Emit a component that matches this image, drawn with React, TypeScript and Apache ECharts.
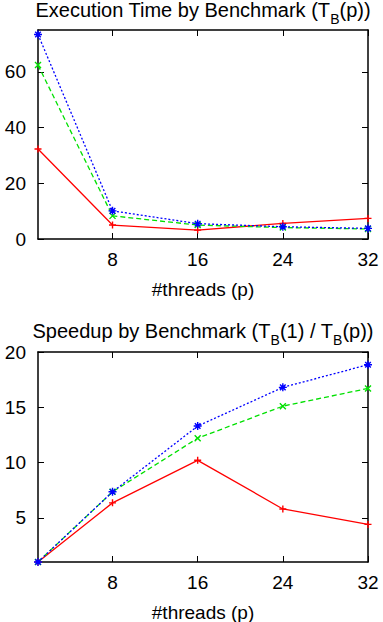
import React, { useEffect, useRef } from 'react';
import * as echarts from 'echarts';

const threads = [1, 8, 16, 24, 32];
const xTicks = [8, 16, 24, 32];
const timeTicks = [0, 20, 40, 60];
const speedTicks = [5, 10, 15, 20];

const timeRed = [32.3, 5.0, 3.2, 5.6, 7.4];
const timeGreen = [62.4, 8.3, 5.0, 4.1, 3.6];
const timeBlue = [73.4, 10.1, 5.5, 4.4, 3.8];

const speedRed = [1, 6.35, 10.2, 5.8, 4.4];
const speedGreen = [1, 7.35, 12.2, 15.1, 16.7];
const speedBlue = [1, 7.35, 13.3, 16.8, 18.85];

const FONT = 'Liberation Sans, Arial, Helvetica, sans-serif';
const FS = 19;
const TFS = 20;

const RED = '#ff0000';
const GREEN = '#00e000';
const BLUE = '#0000ff';

const PLUS = 'path://M5,0L5,10M0,5L10,5';
const CROSS = 'path://M0,0L10,10M10,0L0,10';
const STAR = 'path://M5,0L5,10M0,5L10,5M1.5,1.5L8.5,8.5M8.5,1.5L1.5,8.5';

function pairs(vals: number[]) {
  return threads.map((t, i) => [t, vals[i]]);
}

const axisLineStyle = { color: '#000', width: 1.5 };

function xAxes(gridIndex: number) {
  return [
    {
      type: 'value', gridIndex, min: 1, max: 32, position: 'bottom',
      axisLine: { show: true, onZero: false, lineStyle: axisLineStyle },
      axisTick: { show: true, inside: true, length: 6, customValues: xTicks, lineStyle: { color: '#000', width: 1 } },
      axisLabel: { show: true, customValues: xTicks, margin: 11, fontSize: FS, color: '#000', fontFamily: FONT },
      splitLine: { show: false },
      name: '#threads (p)', nameLocation: 'middle', nameGap: 41,
      nameTextStyle: { fontSize: FS, color: '#000', fontFamily: FONT },
    },
    {
      type: 'value', gridIndex, min: 1, max: 32, position: 'top',
      axisLine: { show: true, onZero: false, lineStyle: axisLineStyle },
      axisTick: { show: true, inside: true, length: 6, customValues: xTicks, lineStyle: { color: '#000', width: 1 } },
      axisLabel: { show: false },
      splitLine: { show: false },
    },
  ];
}

function yAxes(gridIndex: number, min: number, max: number, ticks: number[]) {
  return [
    {
      type: 'value', gridIndex, min, max, position: 'left',
      axisLine: { show: true, onZero: false, lineStyle: axisLineStyle },
      axisTick: { show: true, inside: true, length: 6, customValues: ticks, lineStyle: { color: '#000', width: 1 } },
      axisLabel: { show: true, customValues: ticks, margin: 12, fontSize: FS, color: '#000', fontFamily: FONT },
      splitLine: { show: false },
    },
    {
      type: 'value', gridIndex, min, max, position: 'right',
      axisLine: { show: true, onZero: false, lineStyle: axisLineStyle },
      axisTick: { show: true, inside: true, length: 6, customValues: ticks, lineStyle: { color: '#000', width: 1 } },
      axisLabel: { show: false },
      splitLine: { show: false },
    },
  ];
}

function series(vals: number[], color: string, dash: any, symbol: string, size: number, axisIndex: number) {
  return {
    type: 'line',
    xAxisIndex: axisIndex,
    yAxisIndex: axisIndex,
    data: pairs(vals),
    symbol,
    symbolSize: size,
    showSymbol: true,
    clip: false,
    silent: true,
    lineStyle: { color, width: 1.3, type: dash },
    itemStyle: { color, borderColor: color, borderWidth: 1.4 },
    emphasis: { disabled: true },
  };
}

const rich = {
  n: { fontSize: TFS, fontFamily: FONT, color: '#000', lineHeight: 20, verticalAlign: 'top' },
  s: { fontSize: 14, fontFamily: FONT, color: '#000', lineHeight: 14, padding: [12, 0, 0, 0], verticalAlign: 'top' },
};

export default function App() {
  const ref = useRef<HTMLDivElement>(null);
  useEffect(() => {
    document.body.style.margin = '0';
    const chart = echarts.init(ref.current!, null, { renderer: 'svg' });
    const option: any = {
      animation: false,
      backgroundColor: '#fff',
      grid: [
        { left: 38, right: 15, top: 30, height: 209, outerBoundsMode: 'none', containLabel: false },
        { left: 38, right: 15, top: 352, height: 210, outerBoundsMode: 'none', containLabel: false },
      ],
      xAxis: [...xAxes(0), ...xAxes(1)],
      yAxis: [...yAxes(0, 0, 75, timeTicks), ...yAxes(1, 1, 20, speedTicks)],
      series: [
        series(timeRed, RED, 'solid', PLUS, 7, 0),
        series(timeGreen, GREEN, [5, 3], CROSS, 6, 0),
        series(timeBlue, BLUE, [2, 2], STAR, 8, 0),
        series(speedRed, RED, 'solid', PLUS, 7, 2),
        series(speedGreen, GREEN, [5, 3], CROSS, 6, 2),
        series(speedBlue, BLUE, [2, 2], STAR, 8, 2),
      ],
      graphic: [
        {
          type: 'text', x: 203, y: 0, silent: true,
          style: {
            text: '{n|Execution Time by Benchmark (T}{s|B}{n|(p))}',
            rich, align: 'center', verticalAlign: 'top', fill: '#000', font: `${TFS}px ${FONT}`,
          },
        },
        {
          type: 'text', x: 203, y: 321, silent: true,
          style: {
            text: '{n|Speedup by Benchmark (T}{s|B}{n|(1) / T}{s|B}{n|(p))}',
            rich, align: 'center', verticalAlign: 'top', fill: '#000', font: `${TFS}px ${FONT}`,
          },
        },
      ],
    };
    chart.setOption(option);
    return () => chart.dispose();
  }, []);
  return <div ref={ref} style={{ width: 383, height: 622 }} />;
}
